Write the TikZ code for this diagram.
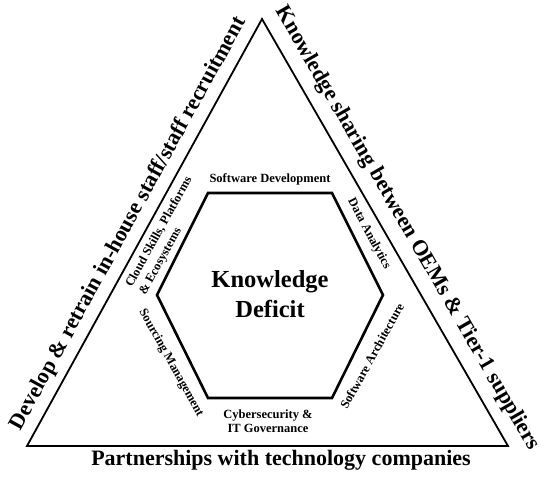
\documentclass[tikz,border=0pt]{standalone}
\usepackage{fontspec}
\setmainfont{Liberation Serif}
\tikzset{
  side/.style={line width=1.8pt},
  hexline/.style={line width=2.6pt},
  biglabel/.style={font=\fontsize{22}{24}\selectfont\bfseries, inner sep=2pt},
  smalllabel/.style={font=\fontsize{12.5}{14.5}\selectfont\bfseries, inner sep=0pt},
}
\begin{document}
\begin{tikzpicture}[x=1pt, y=-1pt]
  \useasboundingbox (0,0) rectangle (550,484);

  % triangle
  \coordinate (apex) at (262,19);
  \coordinate (bl) at (27,446);
  \coordinate (br) at (508,446);
  \draw[side] (apex) -- (br) -- (bl) -- cycle;

  % hexagon
  \coordinate (ht1) at (208,193);
  \coordinate (ht2) at (332,193);
  \coordinate (hr) at (383,295);
  \coordinate (hb2) at (332,398);
  \coordinate (hb1) at (208,398);
  \coordinate (hl) at (157,295);
  \draw[hexline] (ht1) -- (ht2) -- (hr) -- (hb2) -- (hb1) -- (hl) -- cycle;

  \node[font=\fontsize{24.5}{30}\selectfont\bfseries, align=center] (deficit) at (270,294) {Knowledge\\Deficit};

  \node[smalllabel, anchor=base] (swdev) at (270,183) {Software Development};
  \node[smalllabel, rotate=-62] (data) at (369,234) {Data Analytics};
  \node[smalllabel, rotate=61] (arch) at (372,356) {Software Architecture};
  \node[smalllabel, align=center] (cyber) at (268,421) {Cybersecurity \&\\IT Governance};
  \node[smalllabel, rotate=-61] (sourcing) at (171,363) {Sourcing Management};
  \node[smalllabel, rotate=61, align=left, font=\fontsize{12.5}{15.5}\selectfont\bfseries] (cloud) at (166,236) {Cloud Skills, Platforms\\\& Ecosystems};

  \path (bl) -- node[biglabel, sloped, above, inner ysep=8pt] (develop) {Develop \& retrain in-house staff/staff recruitment} (apex);
  \path (apex) -- node[biglabel, sloped, above, inner ysep=11pt, pos=0.515] (sharing) {Knowledge sharing between OEMs \& Tier-1 suppliers} (br);
  \node[biglabel, anchor=base] (partner) at (281,465) {Partnerships with technology companies};
\end{tikzpicture}
\end{document}
